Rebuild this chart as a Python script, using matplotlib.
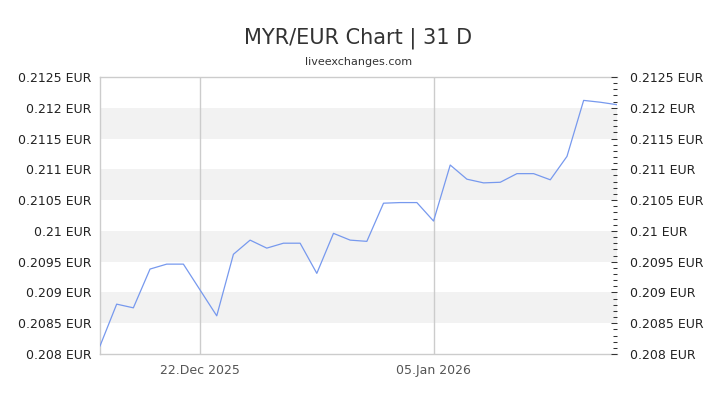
import matplotlib
matplotlib.use("Agg")
import matplotlib.pyplot as plt
from matplotlib.ticker import MultipleLocator

# Data: MYR/EUR daily rates, 16 Dec 2025 .. 16 Jan 2026 (32 points)
dates = ["2025-12-16", "2025-12-17", "2025-12-18", "2025-12-19", "2025-12-20",
         "2025-12-21", "2025-12-22", "2025-12-23", "2025-12-24", "2025-12-25",
         "2025-12-26", "2025-12-27", "2025-12-28", "2025-12-29", "2025-12-30",
         "2025-12-31", "2026-01-01", "2026-01-02", "2026-01-03", "2026-01-04",
         "2026-01-05", "2026-01-06", "2026-01-07", "2026-01-08", "2026-01-09",
         "2026-01-10", "2026-01-11", "2026-01-12", "2026-01-13", "2026-01-14",
         "2026-01-15", "2026-01-16"]
rates = [0.20813, 0.20881, 0.20875, 0.20938, 0.20946,
         0.20946, 0.20904, 0.20862, 0.20962, 0.20985,
         0.20972, 0.20980, 0.20980, 0.20931, 0.20996,
         0.20985, 0.20983, 0.21045, 0.21046, 0.21046,
         0.21016, 0.21107, 0.21084, 0.21078, 0.21079,
         0.21093, 0.21093, 0.21083, 0.21121, 0.21212,
         0.21209, 0.21205]
y_ticks = [0.208, 0.2085, 0.209, 0.2095, 0.21, 0.2105, 0.211, 0.2115, 0.212, 0.2125]
y_tick_labels = ["0.208 EUR", "0.2085 EUR", "0.209 EUR", "0.2095 EUR", "0.21 EUR",
                 "0.2105 EUR", "0.211 EUR", "0.2115 EUR", "0.212 EUR", "0.2125 EUR"]
x_tick_pos = [6, 20]
x_tick_labels = ["22.Dec 2025", "05.Jan 2026"]

plt.rcParams['font.family'] = ['DejaVu Sans']

fig = plt.figure(figsize=(7.2, 4.05), dpi=100)
fig.patch.set_facecolor("white")
ax = fig.add_axes([100/720, 51/405, 517/720, 277/405])

x = list(range(len(rates)))
ax.set_xlim(0, len(rates) - 1)
ax.set_ylim(y_ticks[0], y_ticks[-1])

# alternating bands
for i in range(1, len(y_ticks) - 1, 2):
    ax.axhspan(y_ticks[i], y_ticks[i + 1], color="#f2f2f2", lw=0, zorder=0)

for xp in x_tick_pos:
    ax.axvline(xp, color="#cccccc", lw=1, zorder=1)

ax.plot(x, rates, color="#7799ee", lw=0.9, zorder=3)

ax.set_yticks(y_ticks)
ax.set_yticklabels(y_tick_labels)
ax.tick_params(axis="y", length=0, pad=6, labelsize=9, labelcolor="#222222")
ax.set_xticks(x_tick_pos)
ax.set_xticklabels(x_tick_labels)
ax.tick_params(axis="x", length=0, pad=7, labelsize=9, labelcolor="#555555")

for side in ["top", "left", "bottom"]:
    ax.spines[side].set_color("#cccccc")
    ax.spines[side].set_linewidth(1)
ax.spines["right"].set_visible(False)

ax2 = ax.twinx()
ax2.set_ylim(y_ticks[0], y_ticks[-1])
ax2.set_yticks(y_ticks)
ax2.set_yticklabels(y_tick_labels)
ax2.yaxis.set_minor_locator(MultipleLocator(0.0001))
ax2.tick_params(axis="y", which="major", direction="in", length=4, width=0.75,
                color="#333333", pad=9, labelsize=9, labelcolor="#222222")
ax2.tick_params(axis="y", which="minor", direction="in", length=3, width=0.75,
                color="#333333")
for side in ["top", "left", "bottom", "right"]:
    ax2.spines[side].set_visible(False)

fig.text(358/720, 1 - 38/405, "MYR/EUR Chart | 31 D", ha="center", va="center",
         fontsize=15, color="#333333")
fig.text(359/720, 1 - 62/405, "liveexchanges.com", ha="center", va="center",
         fontsize=8, color="#333333")

fig.savefig("out.png", dpi=100, facecolor="white")
